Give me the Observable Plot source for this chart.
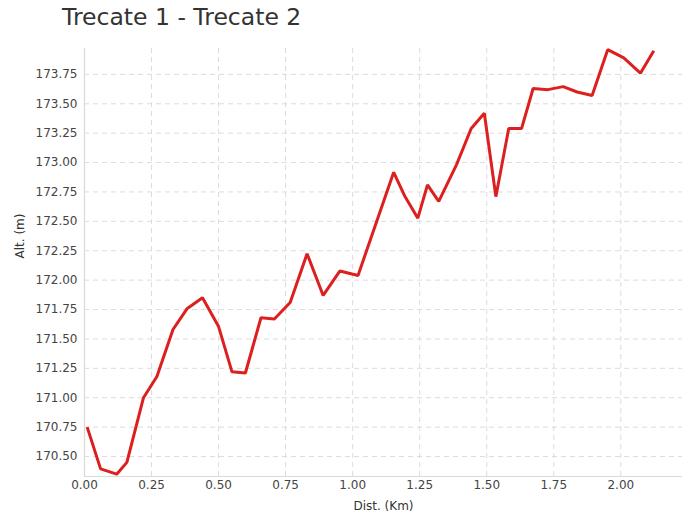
<!DOCTYPE html>
<html>
<head>
<meta charset="utf-8">
<script src="https://cdn.jsdelivr.net/npm/d3@7"></script>
<script src="https://cdn.jsdelivr.net/npm/@observablehq/plot@0.6"></script>
<style>
  html, body { margin: 0; padding: 0; background: #fff; }
  #wrap { position: relative; width: 690px; height: 522px; font-family: "DejaVu Sans", sans-serif; }
  #title { position: absolute; left: 62px; top: 3px; font-size: 23.5px; color: #333; white-space: nowrap; }
</style>
</head>
<body>
<div id="wrap">
  <div id="title">Trecate 1 - Trecate 2</div>
</div>
<script>
const title = "Trecate 1 - Trecate 2";
const xLabel = "Dist. (Km)";
const yLabel = "Alt. (m)";
const dist = [0.01, 0.06, 0.12, 0.158, 0.22, 0.27, 0.33, 0.382, 0.44, 0.50, 0.55, 0.60, 0.658, 0.708, 0.767, 0.83, 0.89, 0.952, 1.02, 1.153, 1.193, 1.243, 1.279, 1.321, 1.387, 1.442, 1.491, 1.534, 1.582, 1.63, 1.673, 1.728, 1.785, 1.837, 1.893, 1.951, 2.011, 2.073, 2.123];
const alt  = [170.75, 170.395, 170.35, 170.45, 171.00, 171.18, 171.58, 171.756, 171.85, 171.605, 171.22, 171.21, 171.68, 171.67, 171.81, 172.225, 171.87, 172.077, 172.04, 172.917, 172.72, 172.527, 172.81, 172.67, 172.98, 173.29, 173.42, 172.71, 173.29, 173.29, 173.63, 173.62, 173.646, 173.60, 173.57, 173.96, 173.89, 173.76, 173.95];
const xTicks = [0, 0.25, 0.5, 0.75, 1.0, 1.25, 1.5, 1.75, 2.0];
const yTicks = [170.5, 170.75, 171.0, 171.25, 171.5, 171.75, 172.0, 172.25, 172.5, 172.75, 173.0, 173.25, 173.5, 173.75];
const xDomain = [0, 2.23];
const yDomain = [170.33, 173.97];

const data = dist.map((d, i) => ({dist: d, alt: alt[i]}));
const gridColor = "#dcdcdc";
const axisColor = "#d9d9d9";
const fmt = d3.format(".2f");

const chart = Plot.plot({
  width: 690,
  height: 522,
  marginTop: 48,
  marginLeft: 84,
  marginRight: 8,
  marginBottom: 46,
  style: {fontFamily: "DejaVu Sans, sans-serif", fontSize: "12px", color: "#444", background: "transparent"},
  x: {domain: xDomain},
  y: {domain: yDomain},
  marks: [
    Plot.gridX(xTicks, {stroke: gridColor, strokeOpacity: 1, strokeDasharray: "5,4"}),
    Plot.gridY(yTicks, {stroke: gridColor, strokeOpacity: 1, strokeDasharray: "5,4"}),
    Plot.ruleX([xDomain[0]], {stroke: axisColor, strokeWidth: 1.2}),
    Plot.ruleY([yDomain[0]], {stroke: axisColor, strokeWidth: 1.2}),
    Plot.axisX(xTicks, {tickSize: 0, tickPadding: 4, tickFormat: fmt, label: null, fill: "#444", fontSize: 12}),
    Plot.axisY(yTicks, {tickSize: 0, tickPadding: 7, tickFormat: fmt, label: null, fill: "#444", fontSize: 12}),
    Plot.line(data, {x: "dist", y: "alt", stroke: "#dc1f1f", strokeWidth: 3, strokeLinejoin: "miter", strokeLinecap: "butt"}),
    Plot.text([xLabel], {frameAnchor: "bottom", dy: 33, fill: "#333", fontSize: 12}),
    Plot.text([yLabel], {frameAnchor: "left", dx: -64, dy: -4, rotate: -90, fill: "#333", fontSize: 12})
  ]
});
chart.style.position = "absolute";
chart.style.left = "0px";
chart.style.top = "0px";
document.getElementById("wrap").appendChild(chart);
</script>
</body>
</html>
